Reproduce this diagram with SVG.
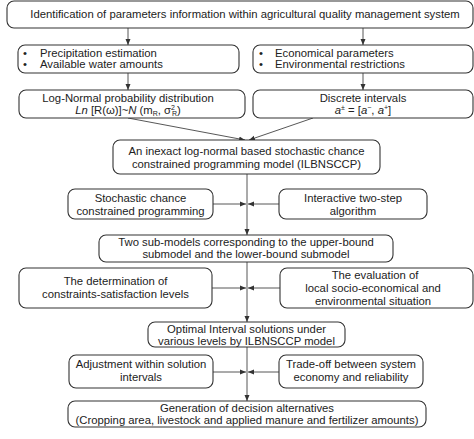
<svg xmlns="http://www.w3.org/2000/svg" width="474" height="439" viewBox="0 0 474 439">
<style>
.box{fill:#fff;stroke:#333;stroke-width:1.1}
.t{font-family:"Liberation Sans",Arial,sans-serif;font-size:11.3px;fill:#222}
.c{text-anchor:middle}
.ln{stroke:#444;stroke-width:0.9;fill:none}
.sub{font-size:7px}
</style>
<defs>
<marker id="ah" markerUnits="userSpaceOnUse" markerWidth="6" markerHeight="6" refX="6" refY="3" orient="auto">
<path d="M0,0.5 L6,3 L0,5.5 z" fill="#333"/>
</marker>
</defs>
<rect width="474" height="439" fill="#fff"/>
<g id="connectors">
<line class="ln" x1="128" y1="28" x2="128" y2="45" marker-end="url(#ah)"/>
<line class="ln" x1="363" y1="28" x2="363" y2="45" marker-end="url(#ah)"/>
<line class="ln" x1="128" y1="73" x2="128" y2="90" marker-end="url(#ah)"/>
<line class="ln" x1="363" y1="73" x2="363" y2="90" marker-end="url(#ah)"/>
<line class="ln" x1="128" y1="118" x2="245" y2="140" marker-end="url(#ah)"/>
<line class="ln" x1="313" y1="118" x2="249" y2="140" marker-end="url(#ah)"/>
<line class="ln" x1="247" y1="174" x2="247" y2="235" marker-end="url(#ah)"/>
<line class="ln" x1="213" y1="204" x2="246" y2="204" marker-end="url(#ah)"/>
<line class="ln" x1="279" y1="204" x2="248" y2="204" marker-end="url(#ah)"/>
<line class="ln" x1="247" y1="262" x2="247" y2="322" marker-end="url(#ah)"/>
<line class="ln" x1="212" y1="288" x2="246" y2="288" marker-end="url(#ah)"/>
<line class="ln" x1="280" y1="288" x2="248" y2="288" marker-end="url(#ah)"/>
<line class="ln" x1="247" y1="347" x2="247" y2="401" marker-end="url(#ah)"/>
<line class="ln" x1="213" y1="372" x2="246" y2="372" marker-end="url(#ah)"/>
<line class="ln" x1="279" y1="372" x2="248" y2="372" marker-end="url(#ah)"/>
</g>
<g id="n1">
<rect class="box" x="7" y="1" width="466" height="27" rx="7"/>
<text class="t c" x="245" y="18">Identification of parameters information within agricultural quality management system</text>
</g>
<g id="n2a">
<rect class="box" x="18" y="45" width="221" height="28" rx="7"/>
<text class="t" x="23" y="57">•</text><text class="t" x="40" y="57">Precipitation estimation</text>
<text class="t" x="23" y="68">•</text><text class="t" x="40" y="68">Available water amounts</text>
</g>
<g id="n2b">
<rect class="box" x="253" y="45" width="220" height="28" rx="7"/>
<text class="t" x="259" y="57">•</text><text class="t" x="275" y="57">Economical parameters</text>
<text class="t" x="259" y="68">•</text><text class="t" x="275" y="68">Environmental restrictions</text>
</g>
<g id="n3a">
<rect class="box" x="19" y="90" width="226" height="28" rx="7"/>
<text class="t c" x="128" y="102">Log-Normal probability distribution</text>
<text class="t c" x="128" y="114"><tspan font-style="italic">Ln</tspan> [R(ω)]~<tspan font-style="italic">N</tspan> (m<tspan class="sub" dy="2">R</tspan><tspan dy="-2">, σ</tspan><tspan class="sub" dy="-4">2</tspan><tspan class="sub" dx="-3" dy="6">R</tspan><tspan dy="-2">)</tspan></text>
</g>
<g id="n3b">
<rect class="box" x="253" y="90" width="220" height="28" rx="7"/>
<text class="t c" x="363" y="102">Discrete intervals</text>
<text class="t c" x="363" y="114"><tspan font-style="italic">a</tspan><tspan class="sub" dy="-4">±</tspan><tspan dy="4"> = [</tspan><tspan font-style="italic">a</tspan><tspan class="sub" dy="-4">−</tspan><tspan dy="4">, </tspan><tspan font-style="italic">a</tspan><tspan class="sub" dy="-4">+</tspan><tspan dy="4">]</tspan></text>
</g>
<g id="n4">
<rect class="box" x="113" y="140" width="267" height="34" rx="7"/>
<text class="t c" x="246.5" y="155">An inexact log-normal based stochastic chance</text>
<text class="t c" x="246.5" y="168">constrained programming model (ILBNSCCP)</text>
</g>
<g id="n5a">
<rect class="box" x="68" y="189" width="145" height="30" rx="7"/>
<text class="t c" x="140.5" y="202">Stochastic chance</text>
<text class="t c" x="140.5" y="215">constrained programming</text>
</g>
<g id="n5b">
<rect class="box" x="279" y="189" width="148" height="30" rx="7"/>
<text class="t c" x="353" y="202">Interactive two-step</text>
<text class="t c" x="353" y="215">algorithm</text>
</g>
<g id="n6">
<rect class="box" x="99" y="235" width="294" height="27" rx="7"/>
<text class="t c" x="246" y="246">Two sub-models corresponding to the upper-bound</text>
<text class="t c" x="246" y="258">submodel and the lower-bound submodel</text>
</g>
<g id="n7a">
<rect class="box" x="19" y="268" width="193" height="40" rx="7"/>
<text class="t c" x="115.5" y="285">The determination of</text>
<text class="t c" x="115.5" y="298">constraints-satisfaction levels</text>
</g>
<g id="n7b">
<rect class="box" x="280" y="268" width="193" height="40" rx="7"/>
<text class="t c" x="375" y="279">The evaluation of</text>
<text class="t c" x="373" y="292">local socio-economical and</text>
<text class="t c" x="373" y="305">environmental situation</text>
</g>
<g id="n8">
<rect class="box" x="148" y="322" width="197" height="25" rx="7"/>
<text class="t c" x="246.5" y="333">Optimal Interval  solutions under</text>
<text class="t c" x="246.5" y="345">various levels by ILBNSCCP model</text>
</g>
<g id="n9a">
<rect class="box" x="69" y="355" width="144" height="33" rx="7"/>
<text class="t c" x="141" y="368">Adjustment within solution</text>
<text class="t c" x="141" y="381">intervals</text>
</g>
<g id="n9b">
<rect class="box" x="279" y="355" width="144" height="33" rx="7"/>
<text class="t c" x="351" y="368">Trade-off between system</text>
<text class="t c" x="351" y="381">economy and reliability</text>
</g>
<g id="n10">
<rect class="box" x="68" y="401" width="358" height="26" rx="7"/>
<text class="t c" x="247" y="412">Generation of decision alternatives</text>
<text class="t c" x="247" y="424">(Cropping area, livestock and applied manure and fertilizer  amounts)</text>
</g>
</svg>
